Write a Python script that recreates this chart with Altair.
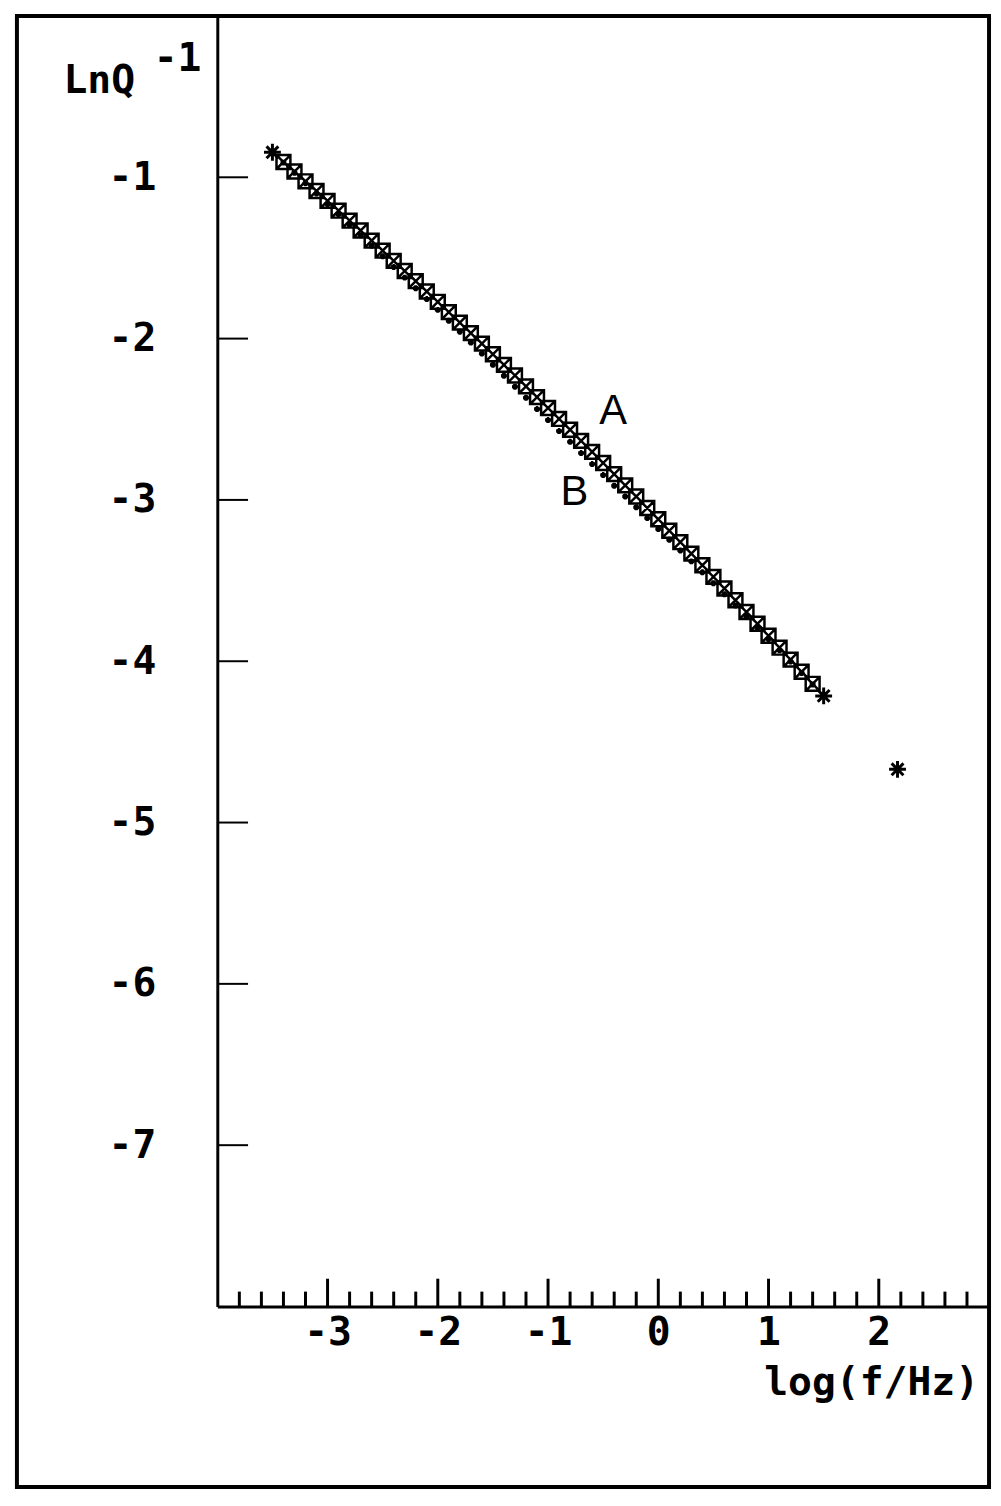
import altair as alt
import pandas as pd

# ---- data ----
log_f = [-3.4, -3.3, -3.2, -3.1, -3.0, -2.9, -2.8, -2.7, -2.6, -2.5,
         -2.4, -2.3, -2.2, -2.1, -2.0, -1.9, -1.8, -1.7, -1.6, -1.5,
         -1.4, -1.3, -1.2, -1.1, -1.0, -0.9, -0.8, -0.7, -0.6, -0.5,
         -0.4, -0.3, -0.2, -0.1, 0.0, 0.1, 0.2, 0.3, 0.4, 0.5,
         0.6, 0.7, 0.8, 0.9, 1.0, 1.1, 1.2, 1.3, 1.4]
series_a = [-0.905, -0.964, -1.025, -1.085, -1.146, -1.207, -1.269, -1.330, -1.393, -1.455,
            -1.518, -1.581, -1.644, -1.708, -1.772, -1.836, -1.901, -1.966, -2.031, -2.097,
            -2.163, -2.229, -2.296, -2.363, -2.430, -2.498, -2.565, -2.634, -2.702, -2.771,
            -2.840, -2.910, -2.979, -3.050, -3.120, -3.191, -3.262, -3.333, -3.405, -3.477,
            -3.549, -3.622, -3.695, -3.768, -3.842, -3.916, -3.990, -4.065, -4.140]
series_b = [-0.909, -0.972, -1.037, -1.101, -1.166, -1.230, -1.295, -1.359, -1.425, -1.490,
            -1.556, -1.622, -1.688, -1.755, -1.822, -1.889, -1.957, -2.025, -2.093, -2.162,
            -2.230, -2.298, -2.367, -2.436, -2.505, -2.573, -2.640, -2.709, -2.777, -2.846,
            -2.912, -2.979, -3.045, -3.113, -3.180, -3.247, -3.314, -3.381, -3.449, -3.517,
            -3.585, -3.654, -3.723, -3.792, -3.862, -3.932, -4.002, -4.073, -4.144]
star_x = [-3.5, 1.5, 2.17]
star_y = [-0.845, -4.215, -4.67]

label_text = ["A", "B"]
label_x = [-0.41, -0.76]
label_y = [-2.45, -2.95]

x_major = [-3, -2, -1, 0, 1, 2]
x_minor = [-3.8, -3.6, -3.4, -3.2, -2.8, -2.6, -2.4, -2.2, -1.8, -1.6, -1.4, -1.2,
           -0.8, -0.6, -0.4, -0.2, 0.2, 0.4, 0.6, 0.8, 1.2, 1.4, 1.6, 1.8,
           2.2, 2.4, 2.6, 2.8]
y_major = [-1, -2, -3, -4, -5, -6, -7]

W, H = 778, 1301
MONO = "DejaVu Sans Mono"

xs = alt.Scale(domain=[-4, 3], nice=False, zero=False)
ys = alt.Scale(domain=[-8, 0], nice=False, zero=False)

df_a = pd.DataFrame({"x": log_f, "y": series_a})
df_b = pd.DataFrame({"x": log_f, "y": series_b})
df_s = pd.DataFrame({"x": star_x, "y": star_y})
df_l = pd.DataFrame({"x": label_x, "y": label_y, "t": label_text})
df_xM = pd.DataFrame({"x": x_major})
df_xm = pd.DataFrame({"x": x_minor})
df_yM = pd.DataFrame({"y": y_major})
one = pd.DataFrame({"k": [0]})

xaxis = alt.Axis(values=x_major, tickSize=0, labelPadding=6, labelFont=MONO,
                 labelFontSize=40, labelFontWeight="bold", labelColor="black",
                 domainColor="black", domainWidth=3, grid=False, title=None,
                 labelExpr="'' + datum.value", labelFlush=False, labelOverlap=False)
yaxis = alt.Axis(values=y_major, tickSize=0, labelPadding=62, labelFont=MONO,
                 labelFontSize=40, labelFontWeight="bold", labelColor="black",
                 domainColor="black", domainWidth=3, grid=False, title=None,
                 labelExpr="'' + datum.value", labelFlush=False, labelOverlap=False,
                 labelBaseline="middle")

X = alt.X("x:Q", scale=xs, axis=xaxis, title=None)
Y = alt.Y("y:Q", scale=ys, axis=yaxis, title=None)

SQX = "M-1,-1L1,-1L1,1L-1,1Z M-1,-1L1,1 M-1,1L1,-1"
AST = "M-1,0L1,0 M0,-1L0,1 M-0.7,-0.7L0.7,0.7 M-0.7,0.7L0.7,-0.7"

pts_a = alt.Chart(df_a).mark_point(shape=SQX, filled=False, size=196, stroke="black",
                                   strokeWidth=2.5, opacity=1).encode(x=X, y=Y)
pts_b = alt.Chart(df_b).mark_point(shape=AST, filled=False, size=36, stroke="black",
                                   strokeWidth=2.5, opacity=1).encode(x=X, y=Y)
pts_s = alt.Chart(df_s).mark_point(shape=AST, filled=False, size=289, stroke="black",
                                   strokeWidth=3, opacity=1).encode(x=X, y=Y)
labels = alt.Chart(df_l).mark_text(font="Liberation Sans", fontSize=42, color="black",
                                   align="center", baseline="middle").encode(
    x=X, y=Y, text="t:N")
ytick = alt.Chart(df_yM).mark_rule(color="black", strokeWidth=2).encode(
    y=Y, x=alt.value(0), x2=alt.value(31))
xtickM = alt.Chart(df_xM).mark_rule(color="black", strokeWidth=3).encode(
    x=X, y=alt.value(H), y2=alt.value(H - 28))
xtickm = alt.Chart(df_xm).mark_rule(color="black", strokeWidth=3).encode(
    x=X, y=alt.value(H), y2=alt.value(H - 15))

frame = alt.Chart(one).mark_rect(filled=False, stroke="black", strokeWidth=4).encode(
    x=alt.value(-202), x2=alt.value(W), y=alt.value(0), y2=alt.value(1483))

ytitle = alt.Chart(one).mark_text(text="LnQ", font=MONO, fontSize=40, fontWeight="bold",
                                  color="black", align="center", baseline="alphabetic").encode(
    x=alt.value(-119), y=alt.value(78))
ysup = alt.Chart(one).mark_text(text="-1", font=MONO, fontSize=40, fontWeight="bold",
                                color="black", align="center", baseline="alphabetic").encode(
    x=alt.value(-40), y=alt.value(55))
xtitle = alt.Chart(one).mark_text(text="log(f/Hz)", font=MONO, fontSize=40, fontWeight="bold",
                                  color="black", align="right", baseline="alphabetic").encode(
    x=alt.value(768), y=alt.value(1390))

chart = alt.layer(
    pts_a, pts_b, pts_s, labels, ytick, xtickM, xtickm, frame, ytitle, ysup, xtitle
).properties(
    width=W, height=H,
    padding={"left": 211, "top": 2, "right": 4, "bottom": 184},
    autosize=alt.AutoSizeParams(type="none"),
    background="white",
).configure_view(stroke=None)

chart.save("out.html", embed_options={"renderer": "svg", "actions": False})
